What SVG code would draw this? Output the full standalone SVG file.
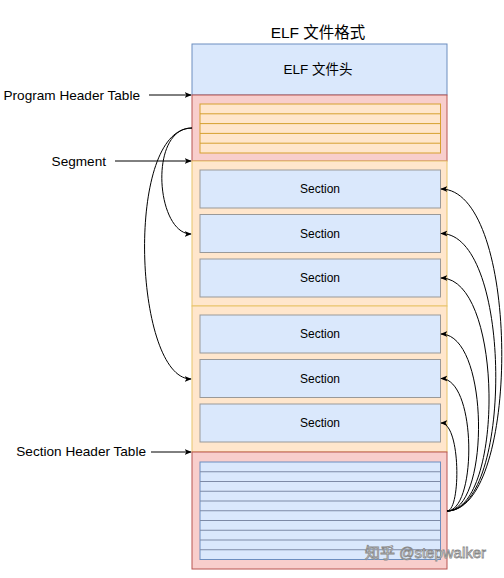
<svg xmlns="http://www.w3.org/2000/svg" width="504" height="578" viewBox="0 0 504 578">
<defs>
<marker id="ah" viewBox="0 0 10 10" refX="9" refY="5" markerWidth="7" markerHeight="7" orient="auto-start-reverse" markerUnits="userSpaceOnUse">
<path d="M0,1 L10,5 L0,9 L2.5,5 Z" fill="#000"/>
</marker>
<style>
text{font-family:"Liberation Sans","Noto Sans CJK SC",sans-serif;fill:#000}
.blue{fill:#dae8fc;stroke:#6c8ebf;stroke-width:1}
.pink{fill:#f8cecc;stroke:#b85450;stroke-width:1}
.seg{fill:#ffe6cc;stroke:#e8c36a;stroke-width:1}
.ph{fill:#ffe6cc;stroke:#d6a030;stroke-width:1}
.sec{fill:#dae8fc;stroke:#999;stroke-width:1}
.row{stroke:#d6a030;stroke-width:1}
.srow{stroke:#7d8aa6;stroke-width:1}
.lbl{font-size:13.6px}
.st{font-size:12px;text-anchor:middle}
.conn{fill:none;stroke:#000;stroke-width:1}
</style>
</defs>
<rect width="504" height="578" fill="#fff"/>
<text x="318" y="37.5" font-size="15.5" text-anchor="middle">ELF 文件格式</text>

<g id="elf-header">
<rect class="blue" x="192" y="44" width="255" height="51"/>
<text x="318" y="74" font-size="13.5" text-anchor="middle">ELF 文件头</text>
</g>

<g id="program-header-table">
<rect class="pink" x="192" y="95" width="255" height="66"/>
<rect class="ph" x="200" y="104" width="240.5" height="49"/>
<line class="row" x1="200" y1="113.8" x2="440.5" y2="113.8"/>
<line class="row" x1="200" y1="123.6" x2="440.5" y2="123.6"/>
<line class="row" x1="200" y1="133.4" x2="440.5" y2="133.4"/>
<line class="row" x1="200" y1="143.2" x2="440.5" y2="143.2"/>
</g>

<g id="segment-1">
<rect class="seg" x="192" y="161" width="255" height="145"/>
</g>
<g id="segment-2">
<rect class="seg" x="192" y="306" width="255" height="146"/>
</g>

<g id="section-1"><rect class="sec" x="200" y="170" width="240.5" height="38"/><text class="st" x="320" y="193">Section</text></g>
<g id="section-2"><rect class="sec" x="200" y="214.5" width="240.5" height="38"/><text class="st" x="320" y="237.5">Section</text></g>
<g id="section-3"><rect class="sec" x="200" y="259" width="240.5" height="38"/><text class="st" x="320" y="282">Section</text></g>
<g id="section-4"><rect class="sec" x="200" y="315" width="240.5" height="38"/><text class="st" x="320" y="338">Section</text></g>
<g id="section-5"><rect class="sec" x="200" y="359.5" width="240.5" height="38"/><text class="st" x="320" y="382.5">Section</text></g>
<g id="section-6"><rect class="sec" x="200" y="404" width="240.5" height="38"/><text class="st" x="320" y="427">Section</text></g>

<g id="section-header-table">
<rect class="pink" x="192" y="452" width="255" height="117"/>
<rect class="blue" x="200" y="462" width="240.5" height="97.5"/>
<line class="srow" x1="200" y1="471.75" x2="440.5" y2="471.75"/>
<line class="srow" x1="200" y1="481.5" x2="440.5" y2="481.5"/>
<line class="srow" x1="200" y1="491.25" x2="440.5" y2="491.25"/>
<line class="srow" x1="200" y1="501" x2="440.5" y2="501"/>
<line class="srow" x1="200" y1="510.75" x2="440.5" y2="510.75"/>
<line class="srow" x1="200" y1="520.5" x2="440.5" y2="520.5"/>
<line class="srow" x1="200" y1="530.25" x2="440.5" y2="530.25"/>
<line class="srow" x1="200" y1="540" x2="440.5" y2="540"/>
<line class="srow" x1="200" y1="549.75" x2="440.5" y2="549.75"/>
</g>

<g id="label-pht"><text class="lbl" x="140" y="99.5" text-anchor="end">Program Header Table</text></g>
<g id="label-segment"><text class="lbl" x="106" y="165.5" text-anchor="end">Segment</text></g>
<g id="label-sht"><text class="lbl" x="146" y="455.5" text-anchor="end">Section Header Table</text></g>

<g id="connectors">
<line class="conn" x1="149" y1="95" x2="191" y2="95" marker-end="url(#ah)"/>
<line class="conn" x1="115" y1="161" x2="191" y2="161" marker-end="url(#ah)"/>
<line class="conn" x1="151" y1="452" x2="191" y2="452" marker-end="url(#ah)"/>
<path class="conn" d="M192 128 C148 128 156 234 191 234" marker-end="url(#ah)"/>
<path class="conn" d="M192 128 C124 128 134 379 191 379" marker-end="url(#ah)"/>
<path class="conn" d="M447 511 C521 511 521 189 441 189" marker-end="url(#ah)"/>
<path class="conn" d="M447 511 C513 511 513 233.5 441 233.5" marker-end="url(#ah)"/>
<path class="conn" d="M447 511 C504 511 504 278 441 278" marker-end="url(#ah)"/>
<path class="conn" d="M447 511 C490 511 490 334 441 334" marker-end="url(#ah)"/>
<path class="conn" d="M447 511 C477 511 477 378.5 441 378.5" marker-end="url(#ah)"/>
<path class="conn" d="M447 511 C461 511 461 423 441 423" marker-end="url(#ah)"/>
</g>

<text x="365" y="558" font-size="15" fill="#fff" stroke="#888" stroke-width="0.8" style="fill:#fff">知乎 @stepwalker</text>
</svg>
